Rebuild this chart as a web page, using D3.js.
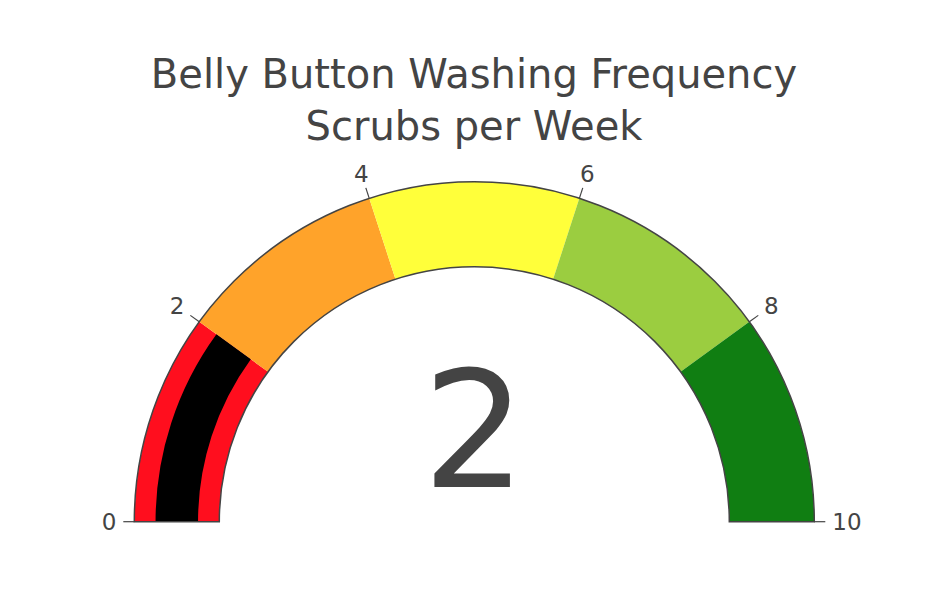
<!DOCTYPE html>
<html>
<head>
<meta charset="utf-8">
<script src="https://cdn.jsdelivr.net/npm/d3@7"></script>
<style>
  body { margin: 0; background: #fff; }
  text { font-family: "DejaVu Sans", Verdana, sans-serif; fill: #444; }
</style>
</head>
<body>
<div id="graphic"></div>
<script>
// gauge data
const titleLines = ["Belly Button Washing Frequency", "Scrubs per Week"];
const gaugeValue = 2;
const gaugeRange = [0, 10];
const stepStarts = [0, 2, 4, 6, 8];
const stepEnds = [2, 4, 6, 8, 10];
const stepColors = ["#ff0e1e", "#ffa32a", "#ffff3a", "#9bcd40", "#107e12"];
const tickValues = [0, 2, 4, 6, 8, 10];

const width = 932, height = 592;
const cx = 474.3, cy = 521.7;
const outerR = 340, innerR = 255;
const thick = outerR - innerR;
const tickLen = 11, tickPad = 6;

let svg = d3.select('#graphic')
	.append('svg')
	.attr('width', width)
	.attr('height', height);

// angle scale: d3.arc measures from 12 o'clock, clockwise
const angle = d3.scaleLinear().domain(gaugeRange).range([-Math.PI / 2, Math.PI / 2]);

let g = svg.append('g').attr('transform', `translate(${cx},${cy})`);

let arc = d3.arc();

// steps
g.selectAll('path.step')
	.data(stepStarts.map((s, i) => ({ s: s, e: stepEnds[i], c: stepColors[i] })))
	.join('path')
	.attr('class', 'step')
	.attr('d', (d) => arc({ innerRadius: innerR, outerRadius: outerR, startAngle: angle(d.s), endAngle: angle(d.e) }))
	.attr('fill', (d) => d.c);

// value bar (half the gauge thickness, centred)
g.append('path')
	.attr('d', arc({
		innerRadius: innerR + thick * 0.25,
		outerRadius: outerR - thick * 0.25,
		startAngle: angle(gaugeRange[0]),
		endAngle: angle(gaugeValue)
	}))
	.attr('fill', '#000');

// border
g.append('path')
	.attr('d', arc({ innerRadius: innerR, outerRadius: outerR, startAngle: angle(gaugeRange[0]), endAngle: angle(gaugeRange[1]) }))
	.attr('fill', 'none')
	.attr('stroke', '#444')
	.attr('stroke-width', 1.5);

// ticks and labels
const pt = (v, r) => [r * Math.sin(angle(v)), -r * Math.cos(angle(v))];

g.selectAll('line.tick')
	.data(tickValues)
	.join('line')
	.attr('class', 'tick')
	.attr('x1', (d) => pt(d, outerR)[0])
	.attr('y1', (d) => pt(d, outerR)[1])
	.attr('x2', (d) => pt(d, outerR + tickLen)[0])
	.attr('y2', (d) => pt(d, outerR + tickLen)[1])
	.attr('stroke', '#444')
	.attr('stroke-width', 1.2);

g.selectAll('text.tick-label')
	.data(tickValues)
	.join('text')
	.attr('class', 'tick-label')
	.attr('font-size', 23)
	.attr('text-anchor', 'middle')
	.attr('dominant-baseline', 'central')
	.text((d) => d)
	.each(function (d) {
		// push label out so its box just clears the tick end
		let w = this.getComputedTextLength() / 2 + 1;
		let h = 8.5;
		let a = angle(d);
		let c = Math.abs(Math.sin(a)), s = Math.abs(Math.cos(a));
		let dist = Math.min(c > 1e-6 ? w / c : Infinity, s > 1e-6 ? h / s : Infinity);
		let p = pt(d, outerR + tickLen + tickPad + dist);
		d3.select(this).attr('x', p[0]).attr('y', p[1]);
	});

// value number
g.append('text')
	.attr('x', 0)
	.attr('y', -35)
	.attr('text-anchor', 'middle')
	.attr('font-size', 163)
	.text(gaugeValue);

// title
svg.selectAll('text.title')
	.data(titleLines)
	.join('text')
	.attr('class', 'title')
	.attr('x', 474)
	.attr('y', (d, i) => 88 + i * 52)
	.attr('text-anchor', 'middle')
	.attr('font-size', 40)
	.text((d) => d);
</script>
</body>
</html>
